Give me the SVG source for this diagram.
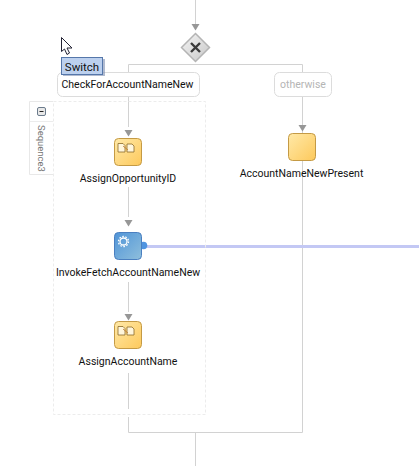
<svg xmlns="http://www.w3.org/2000/svg" width="419" height="466" viewBox="0 0 419 466">
<style>
.c{fill:none;stroke:#d2d2d2;stroke-width:1}
.a{fill:#979797}
.t{font-family:Roboto,"Liberation Sans",Arial,sans-serif;font-size:10.500px;fill:#111;text-anchor:middle}
.cb{fill:#fff;stroke:#dcdcdc;stroke-width:1}
.y{fill:url(#yg);stroke:#c49a45;stroke-width:1}
.d{fill:none;stroke:#c0762a;stroke-width:.8}
.p{fill:#fff6dc;stroke:#8a6a28;stroke-width:.8}
</style>
<defs>
<linearGradient id="yg" x1="0" y1="0" x2="1" y2="1"><stop offset="0" stop-color="#ffe9a8"/><stop offset="1" stop-color="#fdc95c"/></linearGradient>
<linearGradient id="bg" x1="0" y1="0" x2="1" y2="1"><stop offset="0" stop-color="#4f94d8"/><stop offset="1" stop-color="#8fbfdc"/></linearGradient>
<linearGradient id="gg" x1="0" y1="0" x2="1" y2="1"><stop offset="0" stop-color="#f4f4f4"/><stop offset="1" stop-color="#c8c8c8"/></linearGradient>
<g id="doc"><path class="p" d="M0 0.500h5l2 2v6.500h-7z"/><path class="p" d="M9 1h5l2 2v6h-7z"/><path class="d" d="M5 3l5 4"/></g>
<path id="arr" class="a" d="M-4 0h8l-4 6.500z"/>
</defs>
<g id="connectors">
<path class="c" d="M195.500 0V24M128.500 64.500H302.500V432.500H128.500V417M128.500 72V64.500M128.500 96V127M128.500 187V217M128.500 282V312M128.500 373V409M302.500 96V124M302.500 184V432M195.500 432.500V466"/>
<use href="#arr" x="195.500" y="24"/>
<use href="#arr" x="128.500" y="130"/>
<use href="#arr" x="128.500" y="220"/>
<use href="#arr" x="128.500" y="314"/>
<use href="#arr" x="302.500" y="125"/>
<rect x="147" y="245" width="272" height="3" fill="#c3c8f4"/>
</g>
<g id="sequence3">
<rect x="53.500" y="101.500" width="152" height="313" fill="none" stroke="#ececec" stroke-dasharray="3 2"/>
<path d="M53 101.500H29.500V174.500H53" fill="#fff" stroke="#e8e8e8"/>
<path d="M30 121.500H53" stroke="#ececec"/>
<rect x="37.500" y="107.500" width="8" height="8" rx="1.500" fill="#e8e8e8" stroke="#6b7b8c"/>
<path d="M39.500 111.500h4" stroke="#222"/>
<text transform="translate(38,125) rotate(90)" font-family="Roboto,'Liberation Sans',Arial,sans-serif" font-size="9.500" fill="#777">Sequence3</text>
</g>
<g id="switch">
<path d="M195.500 33.500L209.500 47.500L195.500 61.500L181.500 47.500z" fill="url(#gg)" stroke="#b4b4b4" stroke-width="1.500"/>
<path d="M191 43L200 52M200 43L191 52" stroke="#3a3a3a" stroke-width="2.400"/>
</g>
<g id="cursor">
<path d="M61.500 37.500V51.500L64.500 49L67 54.500L69.500 53L67 48H72z" fill="#fff" stroke="#223" stroke-width="1"/>
</g>
<g id="check-for-account-name-new">
<rect x="57.500" y="72.500" width="142" height="24" rx="5" class="cb"/>
<text class="t" x="127.500" y="88">CheckForAccountNameNew</text>
</g>
<g id="switch-tooltip">
<rect x="63" y="59" width="42" height="17" fill="#7d8db0" opacity=".6"/>
<rect x="61.500" y="57.500" width="41" height="17" fill="#bcd0ee" stroke="#5577aa"/>
<text class="t" x="82" y="70.500" style="font-size:11.500px">Switch</text>
</g>
<g id="otherwise">
<rect x="274.500" y="72.500" width="57" height="24" rx="5" class="cb"/>
<text class="t" x="303" y="88" style="fill:#b5b5b5">otherwise</text>
</g>
<g id="assign-opportunity-id">
<rect x="114.500" y="138.500" width="27" height="27" rx="4" class="y"/>
<use href="#doc" x="118" y="143"/>
<text class="t" x="128" y="181.500">AssignOpportunityID</text>
</g>
<g id="account-name-new-present">
<rect x="288.500" y="133.500" width="27" height="27" rx="4" class="y"/>
<text class="t" x="301.500" y="176.500">AccountNameNewPresent</text>
</g>
<g id="invoke-fetch-account-name-new">
<circle cx="143.500" cy="245.500" r="3.800" fill="#4f94e0"/>
<rect x="114.500" y="232.500" width="27" height="27" rx="4" fill="url(#bg)" stroke="#4a7fc0"/>
<circle cx="123.500" cy="241.500" r="3.500" fill="none" stroke="#fff" stroke-width="1.300"/>
<circle cx="123.500" cy="241.500" r="5" fill="none" stroke="#fff" stroke-width="1.300" stroke-dasharray="1.600 1.500"/>
<text class="t" x="128" y="275.500">InvokeFetchAccountNameNew</text>
</g>
<g id="assign-account-name">
<rect x="114.500" y="321.500" width="27" height="27" rx="4" class="y"/>
<use href="#doc" x="118" y="326"/>
<text class="t" x="128" y="364.500">AssignAccountName</text>
</g>
</svg>
